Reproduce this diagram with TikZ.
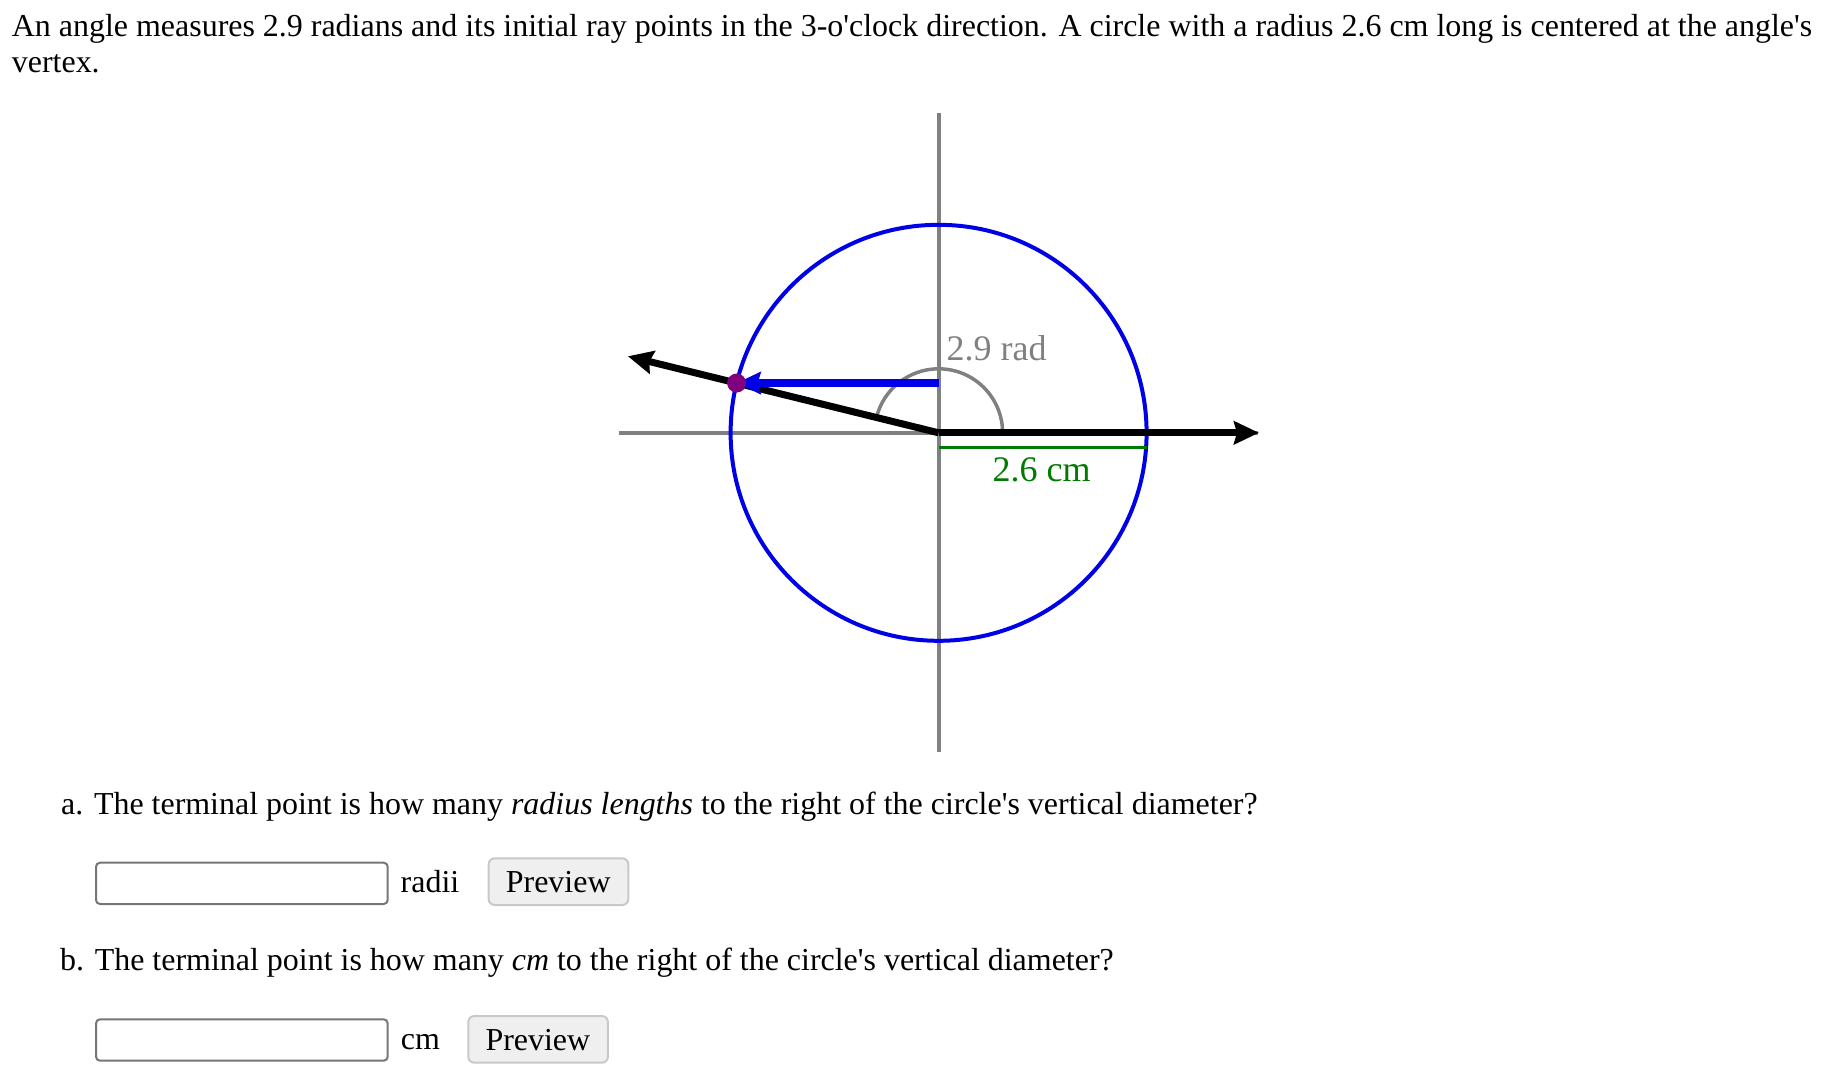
\documentclass[tikz,border=0pt]{standalone}
\usepackage{fontspec}
\setmainfont{Liberation Serif}[Ligatures=TeXOff]
\usetikzlibrary{arrows.meta,calc}
\definecolor{axisgray}{RGB}{128,128,128}
\definecolor{circblue}{RGB}{0,0,230}
\definecolor{radgreen}{RGB}{0,122,0}
\definecolor{dotpurple}{RGB}{128,0,128}
\definecolor{boxborder}{RGB}{118,118,118}
\definecolor{btnfill}{RGB}{239,239,239}
\definecolor{btnborder}{RGB}{200,200,200}
\begin{document}
\begin{tikzpicture}[x=1pt,y=-1pt,
  bodytext/.style={anchor=base west, inner sep=0pt, font=\fontsize{31.95}{36.8}\selectfont},
  labeltext/.style={anchor=base west, inner sep=0pt, font=\fontsize{36}{40}\selectfont},
  axisline/.style={draw=axisgray, line width=4pt},
  rayline/.style={draw=black, line width=7pt, -{Stealth[length=25pt,width=23pt,inset=3pt]}},
  bluearrow/.style={draw=circblue, line width=8pt, -{Stealth[length=24pt,width=22pt,inset=3pt]}},
  inputbox/.style={draw=boxborder, line width=2pt, rounded corners=4pt, fill=white},
  btn/.style={draw=btnborder, line width=2pt, rounded corners=6pt, fill=btnfill}
]
\useasboundingbox (0,0) rectangle (1826,1074);
% title text
\node[bodytext] (title1) at (11.7,36) {An angle measures 2.9 radians and its initial ray points in the 3-o'clock direction. A circle with a radius 2.6 cm long is centered at the angle's};
\node[bodytext] (title2) at (11.7,72.7) {vertex.};
% geometry
\coordinate (O) at (938.6,432.8);
\coordinate (T) at ($(O)+(-166.16:208)$);
\coordinate (B) at (O|-T);
\coordinate (vtop) at (938.6,113);
\coordinate (vbot) at (938.6,752);
\coordinate (hleft) at (619,432.8);
\coordinate (hright) at (1258,432.8);
\coordinate (Rend) at (1259,432.8);
\coordinate (Tend) at ($(O)+(-166.16:320)$);
\coordinate (G1) at (938.6,447.5);
\coordinate (G2) at (1146.6,447.5);
\draw[axisline] (vtop) -- (vbot);
\draw[axisline] (hleft) -- (hright);
\draw[circblue, line width=4pt] (O) circle[radius=208];
\draw[radgreen, line width=3.5pt] (G1) -- (G2);
\draw[axisgray, line width=3.5pt] ($(O)+(64,0)$) arc[start angle=0, end angle=-166.16, radius=64];
\draw[rayline] (O) -- (Rend);
\draw[rayline] (O) -- (Tend);
\draw[bluearrow] (B) -- (T);
\fill[dotpurple] (T) circle[radius=9.5];
\node[labeltext, text=axisgray] (radlabel) at (946.5,360) {2.9 rad};
\node[labeltext, text=radgreen] (cmlabel) at (992.5,481) {2.6 cm};
% question a
\node[bodytext] (qa) at (61,814.3) {a. The terminal point is how many \textit{radius lengths} to the right of the circle's vertical diameter?};
\draw[inputbox] (96,862.7) rectangle (387.7,904);
\node[bodytext] (radii) at (400.5,892.7) {radii};
\draw[btn] (488.7,858.3) rectangle (628.3,905);
\node[bodytext] (preva) at (505.7,892.5) {Preview};
% question b
\node[bodytext] (qb) at (60,970.7) {b. The terminal point is how many \textit{cm} to the right of the circle's vertical diameter?};
\draw[inputbox] (96,1019.3) rectangle (387.7,1060.7);
\node[bodytext] (cmunit) at (400.7,1049.5) {cm};
\draw[btn] (468.3,1016) rectangle (607.9,1062.7);
\node[bodytext] (prevb) at (485.3,1050.2) {Preview};
\end{tikzpicture}
\end{document}
